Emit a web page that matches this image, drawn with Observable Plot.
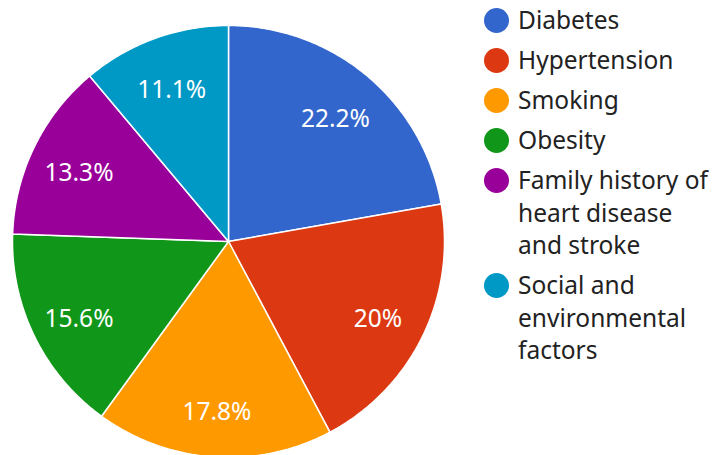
<!DOCTYPE html>
<html>
<head>
<meta charset="utf-8">
<script src="https://cdn.jsdelivr.net/npm/d3@7"></script>
<script src="https://cdn.jsdelivr.net/npm/@observablehq/plot@0.6"></script>
<style>
  body { margin: 0; background: #fff; font-family: "Noto Sans", "Open Sans", sans-serif; }
  #wrap { position: relative; width: 713px; height: 455px; overflow: hidden; }
  #legend { position: absolute; left: 484px; top: 4px; color: #222; font-size: 24.5px; line-height: 32.5px; white-space: nowrap; }
  .item { display: flex; align-items: flex-start; margin-bottom: 7.5px; }
  .sw { width: 25px; height: 25px; border-radius: 50%; flex: none; margin-top: 4px; margin-right: 9px; }
</style>
</head>
<body>
<div id="wrap"></div>
<script>
const categories = ["Diabetes", "Hypertension", "Smoking", "Obesity", "Family history of heart disease and stroke", "Social and environmental factors"];
const legendLines = [["Diabetes"], ["Hypertension"], ["Smoking"], ["Obesity"], ["Family history of", "heart disease", "and stroke"], ["Social and", "environmental", "factors"]];
const values = [10, 9, 8, 7, 6, 5];
const colors = ["#3366cc", "#dc3912", "#ff9900", "#109618", "#990099", "#0099c6"];

const total = d3.sum(values);
const pie = d3.pie().sort(null).value(d => d.value)(categories.map((c, i) => ({key: c, value: values[i]})));

// slice polygons in unit-circle coordinates (angle clockwise from 12 o'clock)
const pts = [];
for (const s of pie) {
  const key = s.data.key;
  pts.push({key, x: 0, y: 0});
  const n = Math.max(2, Math.ceil((s.endAngle - s.startAngle) / 0.01));
  for (let k = 0; k <= n; k++) {
    const a = s.startAngle + (s.endAngle - s.startAngle) * k / n;
    pts.push({key, x: Math.sin(a), y: Math.cos(a)});
  }
  pts.push({key, x: 0, y: 0});
}
const labelR = 0.77;
const labels = pie.map(s => {
  const a = (s.startAngle + s.endAngle) / 2;
  const p = s.data.value / total * 100;
  return {key: s.data.key, x: labelR * Math.sin(a), y: labelR * Math.cos(a), text: (Math.round(p * 10) / 10) + "%"};
});

const chart = Plot.plot({
  width: 713,
  height: 455,
  margin: 0,
  style: {fontFamily: "'Noto Sans', 'Open Sans', sans-serif", background: "white"},
  x: {domain: [-1, 1], range: [12, 444], axis: null},
  y: {domain: [-1, 1], range: [457, 25], axis: null},
  color: {domain: categories, range: colors},
  marks: [
    Plot.line(pts, {x: "x", y: "y", z: "key", fill: "key", stroke: "white", strokeWidth: 1.5, strokeLinejoin: "round"}),
    Plot.text(labels, {x: "x", y: "y", text: "text", fill: "white", fontSize: 24.5, dy: 5})
  ]
});

const wrap = document.getElementById("wrap");
wrap.appendChild(chart);
const legend = document.createElement("div");
legend.id = "legend";
categories.forEach((c, i) => {
  const item = document.createElement("div");
  item.className = "item";
  const sw = document.createElement("div");
  sw.className = "sw";
  sw.style.background = colors[i];
  const t = document.createElement("div");
  t.innerHTML = legendLines[i].join("<br>");
  item.appendChild(sw);
  item.appendChild(t);
  legend.appendChild(item);
});
wrap.appendChild(legend);
</script>
</body>
</html>
